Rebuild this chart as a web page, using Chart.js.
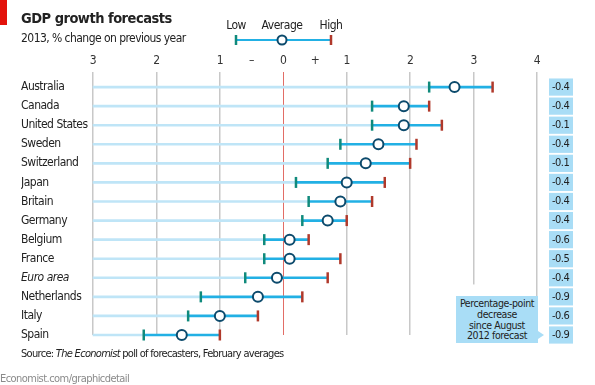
<!DOCTYPE html>
<html>
<head>
<meta charset="utf-8">
<script src="https://cdn.jsdelivr.net/npm/chart.js@4.4.1/dist/chart.umd.min.js"></script>
<style>
  body { margin: 0; background: #fff; }
  #wrap { position: relative; width: 595px; height: 385px; font-family: "DejaVu Sans Condensed", sans-serif; color: #222; }
  canvas { position: absolute; left: 0; top: 0; }
  .flag { position: absolute; left: 0; top: 0; width: 7px; height: 25px; background: #e3120b; }
  .title { position: absolute; left: 21px; top: 10px; font-size: 14.5px; font-weight: bold; letter-spacing: -0.5px; }
  .sub { position: absolute; left: 21px; top: 31px; font-size: 12px; letter-spacing: -0.55px; }
  .source { position: absolute; left: 21px; top: 347px; font-size: 11px; letter-spacing: -0.7px; }
  .credit { position: absolute; left: 0; top: 372px; font-size: 11px; letter-spacing: -0.55px; color: #8a8a8a; }
  .note { position: absolute; left: 456px; top: 296px; width: 82px; height: 47px; background: #a9ddf6;
          font-size: 10.5px; line-height: 10.8px; letter-spacing: -0.4px; text-align: center; white-space: nowrap;
          padding-top: 2px; box-sizing: border-box; }
  .note:after { content: ""; position: absolute; right: -6px; top: 35px; border-left: 6px solid #a9ddf6;
                border-top: 4px solid transparent; border-bottom: 4px solid transparent; }
</style>
</head>
<body>
<div id="wrap">
  <canvas id="chart" width="595" height="385"></canvas>
  <div class="flag"></div>
  <div class="title">GDP growth forecasts</div>
  <div class="sub">2013, % change on previous year</div>
  <div class="note">Percentage-point<br>decrease<br>since August<br>2012 forecast</div>
  <div class="source">Source: <i>The Economist</i> poll of forecasters, February averages</div>
  <div class="credit">Economist.com/graphicdetail</div>
</div>
<script>
const countries = ['Australia', 'Canada', 'United States', 'Sweden', 'Switzerland', 'Japan', 'Britain',
  'Germany', 'Belgium', 'France', 'Euro area', 'Netherlands', 'Italy', 'Spain'];
const low = [2.3, 1.4, 1.4, 0.9, 0.7, 0.2, 0.4, 0.3, -0.3, -0.3, -0.6, -1.3, -1.5, -2.2];
const average = [2.7, 1.9, 1.9, 1.5, 1.3, 1.0, 0.9, 0.7, 0.1, 0.1, -0.1, -0.4, -1.0, -1.6];
const high = [3.3, 2.3, 2.5, 2.1, 2.0, 1.6, 1.4, 1.0, 0.4, 0.9, 0.7, 0.3, -0.4, -1.0];
const decrease = [-0.4, -0.4, -0.1, -0.4, -0.1, -0.4, -0.4, -0.4, -0.6, -0.5, -0.4, -0.9, -0.6, -0.9];
const xTicks = [-3, -2, -1, -0.5, 0, 0.5, 1, 2, 3, 4];

const FONT = '"DejaVu Sans Condensed", sans-serif';
const TEAL = '#108a7c';
const RED = '#b0392b';
const NAVY = '#0c4a6c';
const CYAN = '#22b0e4';

const rowTicks = s => { s.ticks = countries.map((c, i) => ({ value: i })); };
const tickVal = c => (c && c.tick ? c.tick.value : null);

// tighter text, white-out the grid under the note box, and the little key up top
const extras = {
  id: 'extras',
  beforeDraw(chart) {
    chart.ctx.letterSpacing = '-0.5px';
  },
  beforeDatasetsDraw(chart) {
    const { ctx, scales: { x, y } } = chart;
    ctx.save();
    ctx.fillStyle = '#fff';
    ctx.fillRect(x.getPixelForValue(2.5), y.getPixelForValue(10.35), 90, 80);
    ctx.restore();
  },
  afterDraw(chart) {
    const ctx = chart.ctx;
    ctx.save();
    ctx.font = '12px ' + FONT;
    ctx.fillStyle = '#222';
    ctx.textAlign = 'center';
    ctx.fillText('Low', 236, 29);
    ctx.fillText('Average', 282, 29);
    ctx.fillText('High', 331, 29);
    ctx.strokeStyle = CYAN; ctx.lineWidth = 2;
    ctx.beginPath(); ctx.moveTo(236, 40); ctx.lineTo(331, 40); ctx.stroke();
    ctx.lineWidth = 2.5;
    ctx.strokeStyle = TEAL; ctx.beginPath(); ctx.moveTo(236, 35); ctx.lineTo(236, 45); ctx.stroke();
    ctx.strokeStyle = RED; ctx.beginPath(); ctx.moveTo(331, 35); ctx.lineTo(331, 45); ctx.stroke();
    ctx.fillStyle = '#fff'; ctx.strokeStyle = NAVY; ctx.lineWidth = 2;
    ctx.beginPath(); ctx.arc(282, 40, 4.5, 0, Math.PI * 2); ctx.fill(); ctx.stroke();
    ctx.restore();
  }
};

new Chart(document.getElementById('chart'), {
  type: 'bar',
  data: {
    datasets: [
      {
        data: countries.map((c, i) => ({ y: i, x: [-3, low[i]] })),
        backgroundColor: '#bfe5f7',
        barThickness: 2, maxBarThickness: 2, grouped: false, order: 5
      },
      {
        data: countries.map((c, i) => ({ y: i, x: [low[i], high[i]] })),
        backgroundColor: CYAN,
        barThickness: 2, maxBarThickness: 2, grouped: false, order: 4
      },
      {
        type: 'scatter',
        data: countries.map((c, i) => ({ x: low[i], y: i })),
        pointStyle: 'line', rotation: 90, radius: 5.5, borderWidth: 2.5, borderColor: TEAL, order: 3
      },
      {
        type: 'scatter',
        data: countries.map((c, i) => ({ x: high[i], y: i })),
        pointStyle: 'line', rotation: 90, radius: 5.5, borderWidth: 2.5, borderColor: RED, order: 2
      },
      {
        type: 'scatter',
        data: countries.map((c, i) => ({ x: average[i], y: i })),
        pointStyle: 'circle', radius: 5, borderWidth: 2, borderColor: NAVY, backgroundColor: '#fff', order: 1
      }
    ]
  },
  options: {
    indexAxis: 'y',
    responsive: false,
    animation: false,
    events: [],
    datasets: { bar: { clip: false }, scatter: { clip: false } },
    layout: { padding: { left: 21, right: 22, top: 0, bottom: 50 } },
    plugins: { legend: { display: false }, tooltip: { enabled: false } },
    scales: {
      x: {
        type: 'linear', position: 'top', min: -3, max: 4,
        afterBuildTicks: s => { s.ticks = xTicks.map(v => ({ value: v })); },
        border: { display: false },
        grid: {
          drawTicks: false,
          color: c => {
            const v = tickVal(c);
            return v === 0 ? '#e26d66' : (Math.abs(v) === 0.5 ? 'rgba(0,0,0,0)' : '#c8c8c8');
          },
          lineWidth: c => (tickVal(c) === 0 ? 1 : 1.5)
        },
        ticks: {
          padding: 4, color: '#333', font: { family: FONT, size: 12 },
          callback: v => (v === -0.5 ? '–' : (v === 0.5 ? '+' : Math.abs(v)))
        },
        afterFit: s => { s.height = 72; }
      },
      y: {
        type: 'linear', position: 'left', min: -0.79, max: 13, reverse: true, offset: false,
        afterBuildTicks: rowTicks,
        border: { display: false },
        grid: { display: false, drawTicks: false },
        ticks: {
          crossAlign: 'far', color: '#222',
          font: c => ({ family: FONT, size: 12, style: tickVal(c) === 10 ? 'italic' : 'normal' }),
          callback: v => countries[v]
        },
        afterFit: s => { s.width = 72; }
      },
      y2: {
        type: 'linear', position: 'right', min: -0.79, max: 13, reverse: true, offset: false,
        afterBuildTicks: rowTicks,
        border: { display: false },
        grid: { display: false, drawTicks: false },
        ticks: {
          padding: 15, color: '#222', font: { family: FONT, size: 11 },
          showLabelBackdrop: true, backdropColor: '#a9ddf6',
          backdropPadding: { top: 2, bottom: 2, left: 3, right: 3 },
          callback: v => decrease[v].toFixed(1)
        },
        afterFit: s => { s.width = 36; }
      }
    }
  },
  plugins: [extras]
});
</script>
</body>
</html>
